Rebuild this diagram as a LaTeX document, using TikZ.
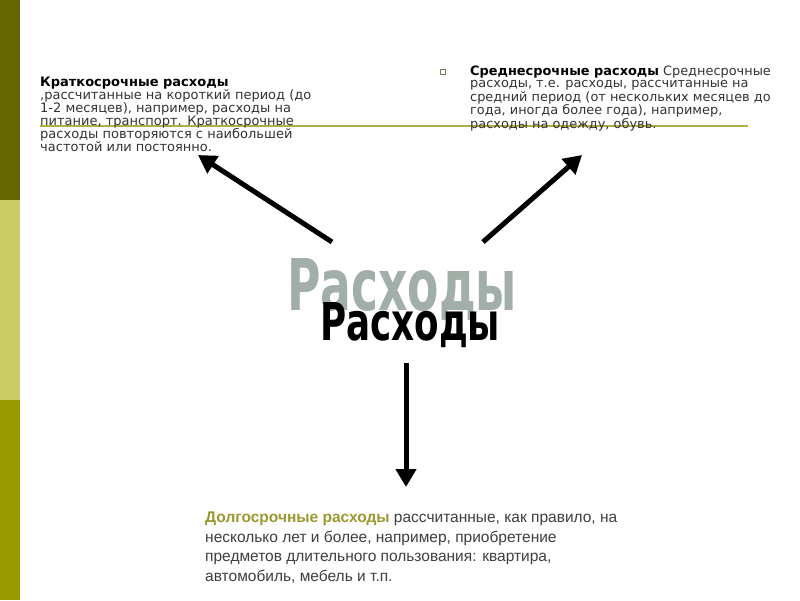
\documentclass[tikz,border=0pt]{standalone}
\usepackage{fontspec}
\setmainfont{DejaVu Sans}
\newfontfamily\arialf{Liberation Sans}
\newfontfamily\condf{DejaVu Sans Condensed}
\usetikzlibrary{arrows.meta}
\definecolor{barA}{HTML}{666600}
\definecolor{barB}{HTML}{CCCC66}
\definecolor{barC}{HTML}{999900}
\definecolor{ruleC}{HTML}{B0B040}
\definecolor{txtC}{HTML}{333333}
\definecolor{txtD}{HTML}{3F3F3F}
\definecolor{oliveT}{HTML}{9A9A30}
\definecolor{bigG}{HTML}{A2AFA9}
\definecolor{bulC}{HTML}{7A7A5A}
\tikzset{
  bodytext/.style={anchor=north west, inner sep=0pt, align=left, text=txtC},
  bigarrow/.style={line width=5pt, -{Triangle[length=18pt,width=20pt]}},
  bigword/.style={anchor=base west, inner sep=0pt},
}
\begin{document}
\begin{tikzpicture}[x=1pt,y=-1pt]
\useasboundingbox (0,0) rectangle (800,600);
\fill[white] (0,0) rectangle (800,600);
% left bar
\fill[barA] (0,0) rectangle (20,200);
\fill[barB] (0,200) rectangle (20,400);
\fill[barC] (0,400) rectangle (20,600);
% rule
\draw[ruleC, line width=1.5pt] (40,126) -- (748,126);
% left text
\node[bodytext, font=\fontsize{13}{12.8}\selectfont] (short) at (40,77)
{\textcolor{black}{\bfseries Краткосрочные расходы}\\
,рассчитанные на короткий период (до\\
1-2 месяцев), например, расходы на\\
питание, транспорт. Краткосрочные\\
расходы повторяются с наибольшей\\
частотой или постоянно.};
% right text
\node[draw=bulC, line width=0.8pt, minimum size=5.5pt, inner sep=0pt] (bullet) at (443,72) {};
\node[bodytext, font=\fontsize{12.9}{12}\selectfont] (mid) at (470,66)
{\textcolor{black}{\bfseries Среднесрочные расходы} Среднесрочные\\
расходы, т.е. расходы, рассчитанные на\\
средний период (от нескольких месяцев до\\
года, иногда более года), например,\\
расходы на одежду, обувь.};
% bottom text
\node[bodytext, text=txtD, font=\arialf\fontsize{15.5}{19.5}\selectfont] (long) at (205,512)
{\textcolor{oliveT}{\bfseries Долгосрочные расходы} рассчитанные, как правило, на\\
несколько лет и более, например, приобретение\\
предметов длительного пользования: квартира,\\
автомобиль, мебель и т.п.};
% big words
\node[bigword, text=bigG] (wordG) at (287,310) {\resizebox{230pt}{52pt}{\condf\bfseries Расходы}};
\node[bigword, text=black] (wordB) at (320,340) {\resizebox{180pt}{38pt}{\condf\bfseries Расходы}};
% arrows
\coordinate (a1s) at (332,242);
\coordinate (a1e) at (198,155);
\coordinate (a2s) at (483,242);
\coordinate (a2e) at (582,155);
\coordinate (a3s) at (406,363);
\coordinate (a3e) at (406,487);
\draw[bigarrow] (a1s) -- (a1e);
\draw[bigarrow] (a2s) -- (a2e);
\draw[bigarrow] (a3s) -- (a3e);
\end{tikzpicture}
\end{document}
